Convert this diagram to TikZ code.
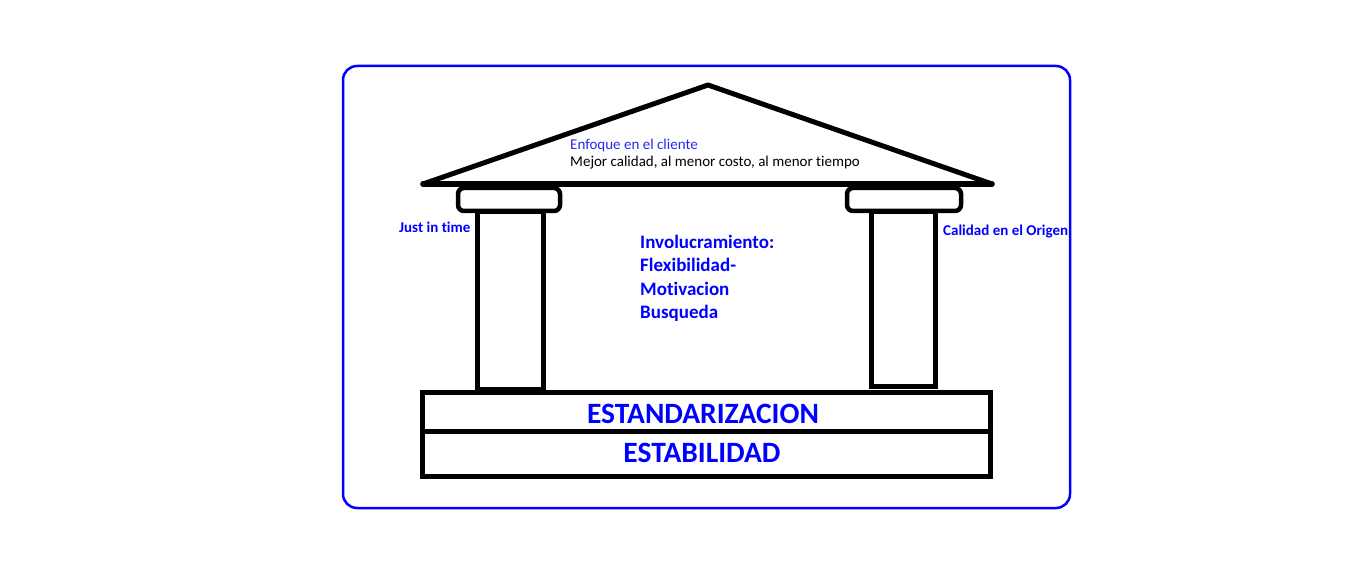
\documentclass[tikz,border=0pt]{standalone}
\usepackage{fontspec}
\setmainfont{Carlito}[Ligatures=NoCommon]
\definecolor{mblue}{RGB}{0,0,255}
\definecolor{eblue}{RGB}{40,40,240}
\begin{document}
\begin{tikzpicture}[x=1pt,y=-1pt,
  frame/.style={draw=mblue,line width=2.5pt,rounded corners=14pt},
  blk/.style={draw=black,line width=5pt},
  capbox/.style={draw=black,line width=4.5pt,rounded corners=6pt},
  small/.style={font=\fontsize{15}{18}\selectfont,inner sep=0pt},
  smallb/.style={font=\fontsize{15}{18}\selectfont\bfseries,text=mblue,inner sep=0pt},
  mid/.style={font=\fontsize{19}{23}\selectfont\bfseries,text=mblue,inner sep=0pt},
  big/.style={font=\fontsize{29.5}{34}\selectfont\bfseries,text=mblue,inner sep=0pt}]
\useasboundingbox[fill=white] (0,0) rectangle (1348,561);
% outer frame
\draw[frame] (343,66) rectangle (1070,508);
% roof
\draw[blk,line join=round] (423,184) -- (708,85) -- (992,184) -- cycle;
\draw[draw=black,line width=5.5pt,line cap=round] (423,184) -- (992,184);
% capitals
\draw[capbox] (458,188) rectangle (560,211);
\draw[capbox] (847,188) rectangle (961,211);
% columns
\draw[blk] (477,212) rectangle (543,389);
\draw[blk] (871,212) rectangle (935,386);
% base
\draw[blk] (422,392) rectangle (990,476);
\draw[blk] (422,431) -- (990,431);
% texts
\node[small,text=eblue,anchor=base west] (enf) at (570,150) {Enfoque en el cliente};
\node[small,text=black,anchor=base west] (mej) at (570,167) {Mejor calidad, al menor costo, al menor tiempo};
\node[smallb,anchor=base west] (jit) at (399,233) {Just in time};
\node[smallb,anchor=base west] (cal) at (943,236) {Calidad en el Origen};
\node[mid,anchor=base west] (inv) at (640,249) {Involucramiento:};
\node[mid,anchor=base west] (fle) at (640,272) {Flexibilidad-};
\node[mid,anchor=base west] (mot) at (640,295) {Motivacion};
\node[mid,anchor=base west] (bus) at (640,318) {Busqueda};
\node[big,anchor=base] (est) at (703,423) {ESTANDARIZACION};
\node[big,anchor=base] (stb) at (702,462) {ESTABILIDAD};
\end{tikzpicture}
\end{document}
